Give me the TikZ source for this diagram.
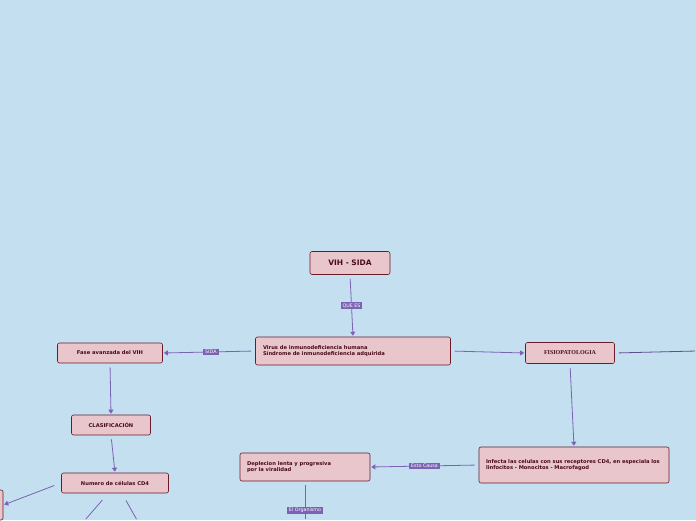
\documentclass[tikz,border=0pt]{standalone}
\usepackage{fontspec}
\setmainfont{DejaVu Sans}
\newfontfamily\serifb{Liberation Serif}
\usetikzlibrary{arrows.meta}
\definecolor{bg}{HTML}{C3DFF0}
\definecolor{boxf}{HTML}{E8C6CB}
\definecolor{boxd}{HTML}{6B1A2A}
\definecolor{txt}{HTML}{4A0A1A}
\definecolor{ln}{HTML}{7B62B3}
\begin{document}
\begin{tikzpicture}[x=1pt,y=-1pt,
 box/.style={draw=boxd,fill=boxf,rounded corners=2pt,line width=0.6pt,text=txt,font=\bfseries\fontsize{5.2}{6.3}\selectfont,inner sep=0pt,align=left},
 lab/.style={fill=ln,text=white,font=\fontsize{4.8}{5.5}\selectfont,inner xsep=2pt,inner ysep=1.5pt},
 con/.style={draw=ln,line width=0.8pt,shorten <=4pt,shorten >=1pt},
 arr/.style={con,-{Triangle[length=4pt,width=5pt]}}]
\fill[bg] (0,0) rectangle (696,520);
\useasboundingbox (0,0) rectangle (696,520);
\node[box,minimum width=80pt,minimum height=23pt,align=center,font=\bfseries\fontsize{7.5}{9}\selectfont] (vih) at (350,263) {VIH - SIDA};
\node[box,minimum width=195pt,minimum height=28pt,text width=180pt] (virus) at (353,351) {Virus de inmunodeficiencia humana\\Síndrome de inmunodeficiencia adquirida};
\node[box,minimum width=105pt,minimum height=20pt,align=center] (fase) at (110,353) {Fase avanzada del VIH};
\node[box,minimum width=89pt,minimum height=21pt,align=center,font=\serifb\bfseries\fontsize{6}{7}\selectfont] (fisio) at (570,353) {FISIOPATOLOGIA};
\node[box,minimum width=79pt,minimum height=20pt,align=center] (clas) at (111,425) {CLASIFICACIÓN};
\node[box,minimum width=107pt,minimum height=20pt,align=center] (num) at (115,483) {Numero de células CD4};
\node[box,minimum width=190pt,minimum height=36pt,text width=176pt] (inf) at (574,465) {Infecta las celulas con sus receptores CD4, en especiala los linfocitos - Monocitos - Macrofagod};
\node[box,minimum width=130pt,minimum height=28pt,text width=116pt] (dep) at (305,467) {Deplecion lenta y progresiva\\por la viralidad};
\node[box,minimum width=40pt,minimum height=30pt] (lft) at (-17,505) {};
\coordinate (fr) at (696,351);
\coordinate (dd) at (305,520);
\coordinate (n1) at (85,520);
\coordinate (n2) at (137,520);
\draw[arr] (vih.south) -- node[lab]{QUE ES} (virus.north);
\draw[arr] (virus.west) -- node[lab,pos=0.48]{SIDA} (fase.east);
\draw[arr] (virus.east) -- (fisio.west);
\draw[con,draw=ln!80!black] (fisio.east) -- (fr);
\draw[arr] (fisio.south) -- (inf.north);
\draw[arr] (inf.west) -- node[lab]{Esto Causa} (dep.east);
\draw[con] (dep.south) -- node[lab,pos=0.75]{El Organismo} (dd);
\draw[arr] (fase.south) -- (clas.north);
\draw[arr] (clas.south) -- (num.north);
\draw[arr] (num.west) ++(-3,1) -- (lft.east);
\draw[con] (105,497) -- (n1);
\draw[con] (124,497) -- (n2);
\end{tikzpicture}
\end{document}
